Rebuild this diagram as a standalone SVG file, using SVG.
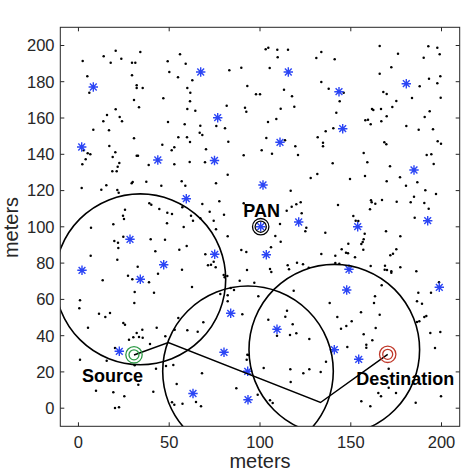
<svg xmlns="http://www.w3.org/2000/svg" xmlns:xlink="http://www.w3.org/1999/xlink" width="474" height="474" viewBox="0 0 474 474">
<style>
.d{fill:#000}
.ax{fill:none;stroke:#262626;stroke-width:1}
.tk{stroke:#262626;stroke-width:1}
.tl{font-family:"Liberation Sans",Arial,sans-serif;font-size:16.5px;fill:#262626}
.al{font-family:"Liberation Sans",Arial,sans-serif;font-size:20px;fill:#262626}
.lb{font-family:"Liberation Sans",Arial,sans-serif;font-size:18px;font-weight:bold;fill:#000}
.rng{fill:none;stroke:#000;stroke-width:1.6}
.route{fill:none;stroke:#000;stroke-width:1.5}
</style>
<defs>
<g id="st"><path d="M-4.7,0H4.7M0,-4.7V4.7M-3.4,-3.4L3.4,3.4M-3.4,3.4L3.4,-3.4" stroke="#2b45f5" stroke-width="1.4" fill="none"/></g>
<clipPath id="clip"><rect x="60.3" y="27.3" width="399.4" height="399"/></clipPath>
</defs>
<rect x="0" y="0" width="474" height="474" fill="#fff"/>

<g id="dots">
<circle class="d" r="1.25" cx="82.7" cy="61"/><circle class="d" r="1.25" cx="103.7" cy="56.3"/><circle class="d" r="1.25" cx="115.7" cy="50.7"/><circle class="d" r="1.25" cx="110.7" cy="62.7"/><circle class="d" r="1.25" cx="121.3" cy="58.7"/><circle class="d" r="1.25" cx="132" cy="62.7"/><circle class="d" r="1.25" cx="135.3" cy="62.7"/><circle class="d" r="1.25" cx="140.3" cy="52"/><circle class="d" r="1.25" cx="87.3" cy="76.3"/><circle class="d" r="1.25" cx="89.3" cy="92.7"/><circle class="d" r="1.25" cx="132" cy="75.3"/><circle class="d" r="1.25" cx="136.7" cy="85.3"/><circle class="d" r="1.25" cx="136.7" cy="88"/><circle class="d" r="1.25" cx="142.7" cy="88"/><circle class="d" r="1.25" cx="134" cy="100"/><circle class="d" r="1.25" cx="139" cy="107.3"/><circle class="d" r="1.25" cx="115.7" cy="109.3"/><circle class="d" r="1.25" cx="107" cy="115"/><circle class="d" r="1.25" cx="119.7" cy="117"/><circle class="d" r="1.25" cx="122" cy="121.3"/><circle class="d" r="1.25" cx="103.3" cy="121.3"/><circle class="d" r="1.25" cx="93.3" cy="129.7"/><circle class="d" r="1.25" cx="109" cy="130.3"/><circle class="d" r="1.25" cx="134" cy="138.3"/><circle class="d" r="1.25" cx="109.3" cy="146"/><circle class="d" r="1.25" cx="115.3" cy="152.3"/><circle class="d" r="1.25" cx="112.7" cy="157"/><circle class="d" r="1.25" cx="136.7" cy="155.7"/><circle class="d" r="1.25" cx="138" cy="155.7"/><circle class="d" r="1.25" cx="87.7" cy="153.3"/><circle class="d" r="1.25" cx="90.3" cy="154.3"/><circle class="d" r="1.25" cx="85.7" cy="159.3"/><circle class="d" r="1.25" cx="83.7" cy="150.3"/>
<circle class="d" r="1.25" cx="167.7" cy="61.3"/><circle class="d" r="1.25" cx="180" cy="54.3"/><circle class="d" r="1.25" cx="185.7" cy="63.7"/><circle class="d" r="1.25" cx="169.3" cy="72"/><circle class="d" r="1.25" cx="178" cy="77.3"/><circle class="d" r="1.25" cx="192.3" cy="80.3"/><circle class="d" r="1.25" cx="187.3" cy="88"/><circle class="d" r="1.25" cx="190.3" cy="92.7"/><circle class="d" r="1.25" cx="190" cy="101.3"/><circle class="d" r="1.25" cx="163.3" cy="98.3"/><circle class="d" r="1.25" cx="187.3" cy="109"/><circle class="d" r="1.25" cx="168" cy="122"/><circle class="d" r="1.25" cx="184.7" cy="124.3"/><circle class="d" r="1.25" cx="178.3" cy="137.3"/><circle class="d" r="1.25" cx="187" cy="137.3"/><circle class="d" r="1.25" cx="190" cy="142"/><circle class="d" r="1.25" cx="162.3" cy="144.7"/><circle class="d" r="1.25" cx="174.3" cy="147.3"/><circle class="d" r="1.25" cx="171.7" cy="150.3"/>
<circle class="d" r="1.25" cx="265.7" cy="49.3"/><circle class="d" r="1.25" cx="268.3" cy="47.7"/><circle class="d" r="1.25" cx="277.3" cy="49.7"/><circle class="d" r="1.25" cx="288" cy="49.7"/><circle class="d" r="1.25" cx="277.7" cy="57.3"/><circle class="d" r="1.25" cx="321.3" cy="52"/><circle class="d" r="1.25" cx="316.3" cy="58"/><circle class="d" r="1.25" cx="229.3" cy="70.3"/><circle class="d" r="1.25" cx="241.3" cy="67.7"/><circle class="d" r="1.25" cx="269.7" cy="68"/><circle class="d" r="1.25" cx="321.3" cy="82"/><circle class="d" r="1.25" cx="247.3" cy="86"/><circle class="d" r="1.25" cx="256" cy="94.3"/><circle class="d" r="1.25" cx="260" cy="94.3"/><circle class="d" r="1.25" cx="284" cy="89.7"/><circle class="d" r="1.25" cx="292" cy="96.3"/><circle class="d" r="1.25" cx="226.7" cy="105.7"/><circle class="d" r="1.25" cx="245" cy="107.7"/><circle class="d" r="1.25" cx="246.3" cy="111.7"/><circle class="d" r="1.25" cx="280.7" cy="108.7"/><circle class="d" r="1.25" cx="294.3" cy="106.7"/><circle class="d" r="1.25" cx="195.3" cy="110.7"/><circle class="d" r="1.25" cx="268" cy="122"/><circle class="d" r="1.25" cx="276.3" cy="119"/><circle class="d" r="1.25" cx="200.3" cy="125.7"/><circle class="d" r="1.25" cx="216.3" cy="126"/><circle class="d" r="1.25" cx="225" cy="128.3"/><circle class="d" r="1.25" cx="199.7" cy="132.7"/><circle class="d" r="1.25" cx="202.3" cy="135"/><circle class="d" r="1.25" cx="228.3" cy="141.7"/><circle class="d" r="1.25" cx="266.3" cy="138"/><circle class="d" r="1.25" cx="285" cy="140.3"/><circle class="d" r="1.25" cx="317.7" cy="137.3"/><circle class="d" r="1.25" cx="325.7" cy="131.3"/><circle class="d" r="1.25" cx="323" cy="142.7"/><circle class="d" r="1.25" cx="323" cy="146.3"/><circle class="d" r="1.25" cx="295.3" cy="146.3"/><circle class="d" r="1.25" cx="206" cy="149.3"/><circle class="d" r="1.25" cx="261.7" cy="150.3"/><circle class="d" r="1.25" cx="272" cy="153.7"/><circle class="d" r="1.25" cx="243.7" cy="155.3"/><circle class="d" r="1.25" cx="298" cy="155"/>
<circle class="d" r="1.25" cx="334.7" cy="59.3"/><circle class="d" r="1.25" cx="379.7" cy="46"/><circle class="d" r="1.25" cx="398" cy="53.7"/><circle class="d" r="1.25" cx="391.3" cy="67.3"/><circle class="d" r="1.25" cx="379.7" cy="73.7"/><circle class="d" r="1.25" cx="423.7" cy="57.7"/><circle class="d" r="1.25" cx="428.3" cy="46.3"/><circle class="d" r="1.25" cx="437.3" cy="47.7"/><circle class="d" r="1.25" cx="439.7" cy="54.3"/><circle class="d" r="1.25" cx="429" cy="78.7"/><circle class="d" r="1.25" cx="440.3" cy="76.3"/><circle class="d" r="1.25" cx="437.3" cy="83.3"/><circle class="d" r="1.25" cx="419.7" cy="86.3"/><circle class="d" r="1.25" cx="412" cy="98"/><circle class="d" r="1.25" cx="440.7" cy="97.7"/><circle class="d" r="1.25" cx="328.7" cy="88.7"/><circle class="d" r="1.25" cx="343.7" cy="92.7"/><circle class="d" r="1.25" cx="339.7" cy="101.3"/><circle class="d" r="1.25" cx="383.3" cy="92"/><circle class="d" r="1.25" cx="386.7" cy="94"/><circle class="d" r="1.25" cx="396.3" cy="101"/><circle class="d" r="1.25" cx="392.3" cy="107"/><circle class="d" r="1.25" cx="372" cy="109"/><circle class="d" r="1.25" cx="373.3" cy="110"/><circle class="d" r="1.25" cx="381" cy="109"/><circle class="d" r="1.25" cx="336.3" cy="112.7"/><circle class="d" r="1.25" cx="386.7" cy="116.3"/><circle class="d" r="1.25" cx="381.3" cy="121.3"/><circle class="d" r="1.25" cx="365.3" cy="120.3"/><circle class="d" r="1.25" cx="368" cy="119.7"/><circle class="d" r="1.25" cx="370.7" cy="124.3"/><circle class="d" r="1.25" cx="429.7" cy="111.3"/><circle class="d" r="1.25" cx="424.7" cy="117"/><circle class="d" r="1.25" cx="333.3" cy="128.3"/><circle class="d" r="1.25" cx="406.3" cy="126"/><circle class="d" r="1.25" cx="418.7" cy="129.7"/><circle class="d" r="1.25" cx="433" cy="129.3"/><circle class="d" r="1.25" cx="384.3" cy="142.3"/><circle class="d" r="1.25" cx="386.3" cy="144.3"/><circle class="d" r="1.25" cx="437.7" cy="141.3"/><circle class="d" r="1.25" cx="441" cy="143.7"/><circle class="d" r="1.25" cx="363.7" cy="153"/><circle class="d" r="1.25" cx="426.7" cy="155"/><circle class="d" r="1.25" cx="431.3" cy="154.3"/>
<circle class="d" r="1.25" cx="82.3" cy="164.3"/><circle class="d" r="1.25" cx="112.3" cy="171.3"/><circle class="d" r="1.25" cx="116.7" cy="171.3"/><circle class="d" r="1.25" cx="117.7" cy="166.7"/><circle class="d" r="1.25" cx="119.3" cy="163"/><circle class="d" r="1.25" cx="148.7" cy="165"/><circle class="d" r="1.25" cx="174.3" cy="164.3"/><circle class="d" r="1.25" cx="189.7" cy="162"/><circle class="d" r="1.25" cx="81.7" cy="188"/><circle class="d" r="1.25" cx="101.3" cy="189.7"/><circle class="d" r="1.25" cx="106.3" cy="185.3"/><circle class="d" r="1.25" cx="117.3" cy="190"/><circle class="d" r="1.25" cx="118.7" cy="192.7"/><circle class="d" r="1.25" cx="131.7" cy="183.3"/><circle class="d" r="1.25" cx="132.7" cy="182"/><circle class="d" r="1.25" cx="146.3" cy="181.7"/><circle class="d" r="1.25" cx="161.3" cy="185.7"/><circle class="d" r="1.25" cx="181.7" cy="181.3"/><circle class="d" r="1.25" cx="185.3" cy="185.7"/><circle class="d" r="1.25" cx="149.3" cy="203.3"/><circle class="d" r="1.25" cx="151.3" cy="204.7"/><circle class="d" r="1.25" cx="159.3" cy="209"/><circle class="d" r="1.25" cx="167.3" cy="212.7"/><circle class="d" r="1.25" cx="172" cy="214"/><circle class="d" r="1.25" cx="167" cy="223.3"/><circle class="d" r="1.25" cx="182.3" cy="207.3"/><circle class="d" r="1.25" cx="191" cy="215.7"/><circle class="d" r="1.25" cx="193" cy="220.7"/><circle class="d" r="1.25" cx="183.7" cy="227"/><circle class="d" r="1.25" cx="125" cy="209.7"/><circle class="d" r="1.25" cx="123" cy="215.7"/><circle class="d" r="1.25" cx="124" cy="219"/><circle class="d" r="1.25" cx="113.3" cy="224.3"/><circle class="d" r="1.25" cx="91" cy="227.7"/><circle class="d" r="1.25" cx="114.3" cy="241"/><circle class="d" r="1.25" cx="118" cy="242.7"/><circle class="d" r="1.25" cx="123.3" cy="236.7"/><circle class="d" r="1.25" cx="118.3" cy="248"/><circle class="d" r="1.25" cx="150.7" cy="239.3"/><circle class="d" r="1.25" cx="165" cy="239.7"/><circle class="d" r="1.25" cx="155.3" cy="251.3"/><circle class="d" r="1.25" cx="179.3" cy="249.7"/><circle class="d" r="1.25" cx="186.7" cy="246"/><circle class="d" r="1.25" cx="90.7" cy="255.7"/><circle class="d" r="1.25" cx="117.3" cy="259.7"/><circle class="d" r="1.25" cx="137.7" cy="266.7"/><circle class="d" r="1.25" cx="158" cy="273.7"/><circle class="d" r="1.25" cx="182" cy="269.7"/><circle class="d" r="1.25" cx="102.7" cy="280.3"/><circle class="d" r="1.25" cx="128" cy="275.7"/><circle class="d" r="1.25" cx="132.3" cy="279.3"/><circle class="d" r="1.25" cx="149" cy="282.3"/><circle class="d" r="1.25" cx="134.7" cy="292"/><circle class="d" r="1.25" cx="154" cy="292.7"/><circle class="d" r="1.25" cx="192" cy="287"/>
<circle class="d" r="1.25" cx="205" cy="162.3"/><circle class="d" r="1.25" cx="227.7" cy="174.7"/><circle class="d" r="1.25" cx="216" cy="183.3"/><circle class="d" r="1.25" cx="290.7" cy="190.7"/><circle class="d" r="1.25" cx="310.7" cy="178"/><circle class="d" r="1.25" cx="317.3" cy="174"/><circle class="d" r="1.25" cx="202.3" cy="204"/><circle class="d" r="1.25" cx="219.3" cy="201.3"/><circle class="d" r="1.25" cx="209.7" cy="211.7"/><circle class="d" r="1.25" cx="224" cy="214.7"/><circle class="d" r="1.25" cx="200.3" cy="218.3"/><circle class="d" r="1.25" cx="213.7" cy="220.7"/><circle class="d" r="1.25" cx="243.7" cy="203.3"/><circle class="d" r="1.25" cx="286.7" cy="210.7"/><circle class="d" r="1.25" cx="291.7" cy="206.7"/><circle class="d" r="1.25" cx="296.3" cy="204.3"/><circle class="d" r="1.25" cx="300.7" cy="202.3"/><circle class="d" r="1.25" cx="301.7" cy="213.3"/><circle class="d" r="1.25" cx="306.3" cy="227.7"/><circle class="d" r="1.25" cx="305.3" cy="231.3"/><circle class="d" r="1.25" cx="325.3" cy="232.7"/><circle class="d" r="1.25" cx="280" cy="224"/><circle class="d" r="1.25" cx="216" cy="229.3"/><circle class="d" r="1.25" cx="227.7" cy="236.3"/><circle class="d" r="1.25" cx="275.3" cy="236"/><circle class="d" r="1.25" cx="280.7" cy="241.7"/><circle class="d" r="1.25" cx="241.3" cy="250"/><circle class="d" r="1.25" cx="246.3" cy="252"/><circle class="d" r="1.25" cx="271" cy="247.3"/><circle class="d" r="1.25" cx="321.3" cy="254"/><circle class="d" r="1.25" cx="205.3" cy="254.3"/><circle class="d" r="1.25" cx="213.7" cy="261.7"/><circle class="d" r="1.25" cx="208" cy="265.3"/><circle class="d" r="1.25" cx="211" cy="264.7"/><circle class="d" r="1.25" cx="215.7" cy="267.3"/><circle class="d" r="1.25" cx="247" cy="270"/><circle class="d" r="1.25" cx="270" cy="269"/><circle class="d" r="1.25" cx="271.3" cy="272"/><circle class="d" r="1.25" cx="287.7" cy="265.3"/><circle class="d" r="1.25" cx="289" cy="269.3"/><circle class="d" r="1.25" cx="297" cy="262.7"/><circle class="d" r="1.25" cx="303" cy="264.3"/><circle class="d" r="1.25" cx="308.7" cy="267.7"/><circle class="d" r="1.25" cx="223.7" cy="275"/><circle class="d" r="1.25" cx="227.3" cy="276"/><circle class="d" r="1.25" cx="224.7" cy="277.3"/><circle class="d" r="1.25" cx="239.7" cy="280.7"/><circle class="d" r="1.25" cx="254.3" cy="282.7"/><circle class="d" r="1.25" cx="293.7" cy="290.7"/><circle class="d" r="1.25" cx="234" cy="290"/><circle class="d" r="1.25" cx="230.7" cy="288"/>
<circle class="d" r="1.25" cx="332.7" cy="163.3"/><circle class="d" r="1.25" cx="367.3" cy="162.3"/><circle class="d" r="1.25" cx="390" cy="166.3"/><circle class="d" r="1.25" cx="433.7" cy="164"/><circle class="d" r="1.25" cx="350" cy="179"/><circle class="d" r="1.25" cx="365" cy="176"/><circle class="d" r="1.25" cx="386.7" cy="181.3"/><circle class="d" r="1.25" cx="400" cy="177.3"/><circle class="d" r="1.25" cx="417.3" cy="182.3"/><circle class="d" r="1.25" cx="406" cy="185.7"/><circle class="d" r="1.25" cx="425.3" cy="190.3"/><circle class="d" r="1.25" cx="436" cy="194"/><circle class="d" r="1.25" cx="414" cy="196.7"/><circle class="d" r="1.25" cx="338" cy="205"/><circle class="d" r="1.25" cx="371" cy="200.3"/><circle class="d" r="1.25" cx="371.7" cy="202.3"/><circle class="d" r="1.25" cx="375.3" cy="203.7"/><circle class="d" r="1.25" cx="382" cy="200"/><circle class="d" r="1.25" cx="396.7" cy="201.7"/><circle class="d" r="1.25" cx="410.7" cy="202.3"/><circle class="d" r="1.25" cx="424.3" cy="203"/><circle class="d" r="1.25" cx="428.7" cy="208.7"/><circle class="d" r="1.25" cx="370" cy="209.3"/><circle class="d" r="1.25" cx="414.7" cy="217.7"/><circle class="d" r="1.25" cx="353.3" cy="216"/><circle class="d" r="1.25" cx="355.7" cy="220.7"/><circle class="d" r="1.25" cx="358.3" cy="221"/><circle class="d" r="1.25" cx="364.7" cy="233.7"/><circle class="d" r="1.25" cx="386" cy="231.3"/><circle class="d" r="1.25" cx="400.3" cy="236.3"/><circle class="d" r="1.25" cx="363.7" cy="239.3"/><circle class="d" r="1.25" cx="362.7" cy="242"/><circle class="d" r="1.25" cx="348.3" cy="243.7"/><circle class="d" r="1.25" cx="361.3" cy="244"/><circle class="d" r="1.25" cx="341.7" cy="249.3"/><circle class="d" r="1.25" cx="346" cy="252.7"/><circle class="d" r="1.25" cx="348" cy="253.3"/><circle class="d" r="1.25" cx="363.3" cy="249.7"/><circle class="d" r="1.25" cx="396.3" cy="249.3"/><circle class="d" r="1.25" cx="393" cy="253.7"/><circle class="d" r="1.25" cx="390.3" cy="255.3"/><circle class="d" r="1.25" cx="335.3" cy="255.7"/><circle class="d" r="1.25" cx="355" cy="257.3"/><circle class="d" r="1.25" cx="335.3" cy="263"/><circle class="d" r="1.25" cx="339.3" cy="263.7"/><circle class="d" r="1.25" cx="370.7" cy="266"/><circle class="d" r="1.25" cx="385" cy="265.7"/><circle class="d" r="1.25" cx="384.7" cy="269.7"/><circle class="d" r="1.25" cx="387" cy="270"/><circle class="d" r="1.25" cx="391.3" cy="271.3"/><circle class="d" r="1.25" cx="391.3" cy="272.7"/><circle class="d" r="1.25" cx="400.3" cy="267.3"/><circle class="d" r="1.25" cx="416.3" cy="271.3"/><circle class="d" r="1.25" cx="381.7" cy="285.3"/><circle class="d" r="1.25" cx="418.3" cy="292.7"/><circle class="d" r="1.25" cx="431" cy="292.7"/><circle class="d" r="1.25" cx="439" cy="282.3"/>
<circle class="d" r="1.25" cx="80" cy="300.3"/><circle class="d" r="1.25" cx="79.3" cy="308.3"/><circle class="d" r="1.25" cx="99" cy="313.7"/><circle class="d" r="1.25" cx="105.3" cy="317"/><circle class="d" r="1.25" cx="110" cy="313"/><circle class="d" r="1.25" cx="123.3" cy="323"/><circle class="d" r="1.25" cx="125" cy="324.7"/><circle class="d" r="1.25" cx="134.3" cy="303"/><circle class="d" r="1.25" cx="88" cy="327.7"/><circle class="d" r="1.25" cx="156.7" cy="327.7"/><circle class="d" r="1.25" cx="142.3" cy="329.7"/><circle class="d" r="1.25" cx="136.7" cy="333"/><circle class="d" r="1.25" cx="139" cy="337"/><circle class="d" r="1.25" cx="133.3" cy="337.3"/><circle class="d" r="1.25" cx="129" cy="339.7"/><circle class="d" r="1.25" cx="142.7" cy="337.7"/><circle class="d" r="1.25" cx="150" cy="344"/><circle class="d" r="1.25" cx="165.3" cy="336.3"/><circle class="d" r="1.25" cx="174.7" cy="329.7"/><circle class="d" r="1.25" cx="178.3" cy="318"/><circle class="d" r="1.25" cx="187.3" cy="330.3"/><circle class="d" r="1.25" cx="115" cy="348"/><circle class="d" r="1.25" cx="80" cy="359.7"/><circle class="d" r="1.25" cx="106.7" cy="360.7"/><circle class="d" r="1.25" cx="134.7" cy="365.3"/><circle class="d" r="1.25" cx="138.3" cy="384.7"/><circle class="d" r="1.25" cx="156" cy="368.7"/><circle class="d" r="1.25" cx="166" cy="366"/><circle class="d" r="1.25" cx="173.3" cy="365"/><circle class="d" r="1.25" cx="153.3" cy="391.7"/><circle class="d" r="1.25" cx="176.7" cy="384"/><circle class="d" r="1.25" cx="96" cy="390.7"/><circle class="d" r="1.25" cx="113.3" cy="392.3"/><circle class="d" r="1.25" cx="124.3" cy="396.3"/><circle class="d" r="1.25" cx="115" cy="408"/><circle class="d" r="1.25" cx="119" cy="407.3"/><circle class="d" r="1.25" cx="172" cy="402.3"/><circle class="d" r="1.25" cx="174.3" cy="404.7"/><circle class="d" r="1.25" cx="182.5" cy="403.7"/>
<circle class="d" r="1.25" cx="220.3" cy="294"/><circle class="d" r="1.25" cx="227.7" cy="295.3"/><circle class="d" r="1.25" cx="227.7" cy="301.3"/><circle class="d" r="1.25" cx="258.3" cy="296.3"/><circle class="d" r="1.25" cx="242.3" cy="314.3"/><circle class="d" r="1.25" cx="203.3" cy="322.3"/><circle class="d" r="1.25" cx="197.7" cy="331.7"/><circle class="d" r="1.25" cx="268.3" cy="319.7"/><circle class="d" r="1.25" cx="287" cy="310.7"/><circle class="d" r="1.25" cx="285.3" cy="316.7"/><circle class="d" r="1.25" cx="292.7" cy="324.3"/><circle class="d" r="1.25" cx="290" cy="335"/><circle class="d" r="1.25" cx="296.3" cy="333.3"/><circle class="d" r="1.25" cx="309.3" cy="339"/><circle class="d" r="1.25" cx="277" cy="335.7"/><circle class="d" r="1.25" cx="247.3" cy="354.7"/><circle class="d" r="1.25" cx="248.3" cy="355"/><circle class="d" r="1.25" cx="246.7" cy="359.7"/><circle class="d" r="1.25" cx="263.7" cy="368"/><circle class="d" r="1.25" cx="290.3" cy="369.3"/><circle class="d" r="1.25" cx="303.3" cy="373.3"/><circle class="d" r="1.25" cx="309.3" cy="369.3"/><circle class="d" r="1.25" cx="320.7" cy="372"/><circle class="d" r="1.25" cx="202" cy="373.3"/><circle class="d" r="1.25" cx="290.7" cy="382"/><circle class="d" r="1.25" cx="236.3" cy="388.3"/><circle class="d" r="1.25" cx="257.7" cy="394.7"/><circle class="d" r="1.25" cx="270" cy="400.3"/><circle class="d" r="1.25" cx="272.7" cy="403"/><circle class="d" r="1.25" cx="196" cy="402"/><circle class="d" r="1.25" cx="201" cy="406.3"/><circle class="d" r="1.25" cx="326" cy="361.7"/>
<circle class="d" r="1.25" cx="417" cy="301.3"/><circle class="d" r="1.25" cx="422" cy="303.7"/><circle class="d" r="1.25" cx="417" cy="322"/><circle class="d" r="1.25" cx="419.3" cy="321.3"/><circle class="d" r="1.25" cx="424.3" cy="317"/><circle class="d" r="1.25" cx="426.3" cy="316"/><circle class="d" r="1.25" cx="430.3" cy="333"/><circle class="d" r="1.25" cx="440.3" cy="332"/><circle class="d" r="1.25" cx="435" cy="348"/><circle class="d" r="1.25" cx="441" cy="396.3"/><circle class="d" r="1.25" cx="415.7" cy="402.7"/><circle class="d" r="1.25" cx="375" cy="296.3"/><circle class="d" r="1.25" cx="374" cy="303"/><circle class="d" r="1.25" cx="363.7" cy="334.3"/><circle class="d" r="1.25" cx="366.3" cy="344.7"/><circle class="d" r="1.25" cx="366.3" cy="347.7"/><circle class="d" r="1.25" cx="372.3" cy="340.3"/><circle class="d" r="1.25" cx="375.7" cy="328"/><circle class="d" r="1.25" cx="379.7" cy="314.7"/><circle class="d" r="1.25" cx="361" cy="312.3"/><circle class="d" r="1.25" cx="351.7" cy="321.3"/><circle class="d" r="1.25" cx="346.3" cy="326"/><circle class="d" r="1.25" cx="337.3" cy="317"/><circle class="d" r="1.25" cx="341" cy="328.7"/><circle class="d" r="1.25" cx="329.7" cy="303"/><circle class="d" r="1.25" cx="388.7" cy="368.7"/><circle class="d" r="1.25" cx="396" cy="393"/><circle class="d" r="1.25" cx="378.3" cy="393"/><circle class="d" r="1.25" cx="381" cy="396.3"/><circle class="d" r="1.25" cx="361.3" cy="401.3"/><circle class="d" r="1.25" cx="370.3" cy="406.3"/><circle class="d" r="1.25" cx="388.7" cy="387.7"/><circle class="d" r="1.25" cx="347.3" cy="347"/>
</g>

<g id="relays">
<use xlink:href="#st" x="93.3" y="87"/><use xlink:href="#st" x="81.7" y="147"/><use xlink:href="#st" x="157.8" y="160"/><use xlink:href="#st" x="200.7" y="72"/><use xlink:href="#st" x="288.3" y="72"/><use xlink:href="#st" x="217.7" y="117.7"/><use xlink:href="#st" x="280" y="142.3"/><use xlink:href="#st" x="214.5" y="160.5"/><use xlink:href="#st" x="339" y="91.7"/><use xlink:href="#st" x="406.3" y="83.7"/><use xlink:href="#st" x="342.7" y="128.7"/><use xlink:href="#st" x="186.3" y="198.7"/><use xlink:href="#st" x="130" y="239.3"/><use xlink:href="#st" x="82" y="270.3"/><use xlink:href="#st" x="163.7" y="264.7"/><use xlink:href="#st" x="140.3" y="279.3"/><use xlink:href="#st" x="263" y="185"/><use xlink:href="#st" x="298.7" y="222"/><use xlink:href="#st" x="214.7" y="254.3"/><use xlink:href="#st" x="266.3" y="254.7"/><use xlink:href="#st" x="414" y="170"/><use xlink:href="#st" x="357.7" y="226.7"/><use xlink:href="#st" x="427.7" y="220.7"/><use xlink:href="#st" x="349" y="269.3"/><use xlink:href="#st" x="346.7" y="290"/><use xlink:href="#st" x="439.3" y="287.3"/><use xlink:href="#st" x="119.3" y="351.3"/><use xlink:href="#st" x="193" y="393.5"/><use xlink:href="#st" x="230.7" y="313.3"/><use xlink:href="#st" x="224" y="352.3"/><use xlink:href="#st" x="247.7" y="371.3"/><use xlink:href="#st" x="248" y="399.7"/><use xlink:href="#st" x="334.3" y="349.7"/><use xlink:href="#st" x="277" y="329.3"/><use xlink:href="#st" x="358.7" y="359.3"/>
</g>

<g id="connectors" clip-path="url(#clip)">
<circle class="rng" cx="140.3" cy="279.3" r="85.4"/>
<circle class="rng" cx="248" cy="371.3" r="85.3"/>
<circle class="rng" cx="334.3" cy="349.7" r="85.3"/>
<polyline class="route" points="134,355 168.3,342.5 320.5,402.5 387.7,354.3"/>
</g>

<g id="pan">
<use xlink:href="#st" x="260.7" y="226.7"/>
<circle cx="260.7" cy="226.7" r="8.2" fill="none" stroke="#000" stroke-width="1.3"/>
<circle cx="260.7" cy="226.7" r="5.6" fill="none" stroke="#000" stroke-width="1.3"/>
<text class="lb" x="261.7" y="217.3" text-anchor="middle">PAN</text>
</g>
<g id="source">
<circle cx="134" cy="354.8" r="8.2" fill="none" stroke="#2e9a46" stroke-width="1.3"/>
<circle cx="134" cy="354.8" r="5" fill="none" stroke="#2e9a46" stroke-width="1.3"/>
<text class="lb" x="112.5" y="382.3" text-anchor="middle">Source</text>
</g>
<g id="destination">
<circle cx="387.7" cy="354.3" r="8.2" fill="none" stroke="#c0392b" stroke-width="1.3"/>
<circle cx="387.7" cy="354.3" r="5" fill="none" stroke="#c0392b" stroke-width="1.3"/>
<text class="lb" x="405.2" y="384.7" text-anchor="middle">Destination</text>
</g>

<g id="axes">
<rect class="ax" x="60.3" y="27.3" width="399.4" height="399"/>
<path class="tk" d="M78.45,426.3v-4M169.2,426.3v-4M260,426.3v-4M350.8,426.3v-4M441.5,426.3v-4M78.45,27.3v4M169.2,27.3v4M260,27.3v4M350.8,27.3v4M441.5,27.3v4"/>
<path class="tk" d="M60.3,408.2h4M60.3,371.9h4M60.3,335.7h4M60.3,299.4h4M60.3,263.1h4M60.3,226.8h4M60.3,190.6h4M60.3,154.3h4M60.3,118h4M60.3,81.7h4M60.3,45.5h4M459.7,408.2h-4M459.7,371.9h-4M459.7,335.7h-4M459.7,299.4h-4M459.7,263.1h-4M459.7,226.8h-4M459.7,190.6h-4M459.7,154.3h-4M459.7,118h-4M459.7,81.7h-4M459.7,45.5h-4"/>
<g class="tl" text-anchor="middle">
<text x="78.45" y="448.3">0</text><text x="169.2" y="448.3">50</text><text x="260" y="448.3">100</text><text x="350.8" y="448.3">150</text><text x="441.5" y="448.3">200</text>
</g>
<g class="tl" text-anchor="end">
<text x="54.5" y="414">0</text><text x="54.5" y="377.7">20</text><text x="54.5" y="341.5">40</text><text x="54.5" y="305.2">60</text><text x="54.5" y="268.9">80</text><text x="54.5" y="232.6">100</text><text x="54.5" y="196.4">120</text><text x="54.5" y="160.1">140</text><text x="54.5" y="123.8">160</text><text x="54.5" y="87.5">180</text><text x="54.5" y="51.3">200</text>
</g>
<text class="al" x="260" y="468" text-anchor="middle">meters</text>
<text class="al" x="0" y="0" text-anchor="middle" transform="translate(18,227.5) rotate(-90)">meters</text>
</g>
</svg>
